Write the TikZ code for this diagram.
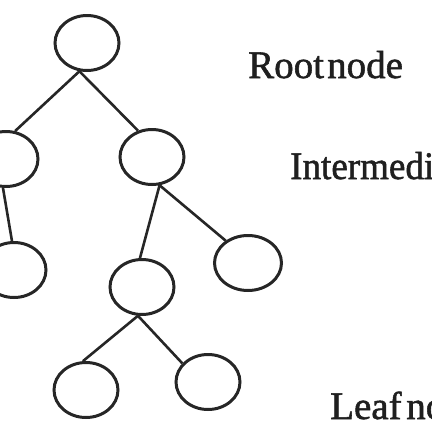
\documentclass[tikz,border=0pt]{standalone}
\usepackage{fontspec}
\setmainfont{Liberation Serif}
\newfontfamily\lblfont[FakeBold=1.4]{Liberation Serif}
\usetikzlibrary{shapes.geometric}
\begin{document}
\begin{tikzpicture}[x=1pt,y=-1pt,
  tn/.style={draw=black!85, line width=3pt, ellipse, minimum width=64pt, minimum height=55pt, inner sep=0pt},
  edge/.style={draw=black!85, line width=2.6pt},
  lbl/.style={anchor=base west, inner sep=0pt, font=\lblfont\fontsize{39}{44}\selectfont, text=black!88}]
\useasboundingbox (0,0) rectangle (432,432);
\clip (0,0) rectangle (432,432);
\node[tn] (root) at (87,43) {};
\node[tn] (li) at (6,159) {};
\node[tn] (ri) at (152,157) {};
\node[tn] (ll) at (14,270) {};
\node[tn] (c) at (142,287) {};
\node[tn, minimum width=67pt] (d) at (248,263) {};
\node[tn] (e) at (86,390) {};
\node[tn] (f) at (208,382) {};
\draw[edge] (root.255) -- (li.72);
\draw[edge] (root.255) -- (ri.118);
\draw[edge] (li.264) -- (ll.94);
\draw[edge] (ri.285) -- (c.94);
\draw[edge] (ri.285) -- (d.135);
\draw[edge] (c.262) -- (e.96);
\draw[edge] (c.262) -- (f.144);
\node[lbl] (t1) at (248,78) {Root\hspace{0.08em}node};
\node[lbl] (t2) at (290,179) {\scalebox{0.95}[1]{Intermediate node}};
\node[lbl] (t3) at (330,419) {Leaf\hspace{0.12em}node};
\end{tikzpicture}
\end{document}
